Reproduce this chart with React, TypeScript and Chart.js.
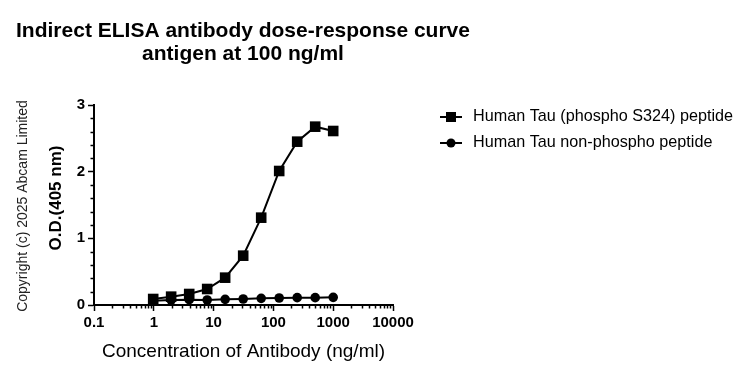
import { useEffect, useRef } from 'react';
import { Chart, registerables } from 'chart.js';
Chart.register(...registerables);

const FONT = "'Liberation Sans', Arial, sans-serif";

const titleLines = ['Indirect ELISA antibody dose-response curve', 'antigen at 100 ng/ml'];
const xAxisTitle = 'Concentration of Antibody (ng/ml)';
const yAxisTitle = 'O.D.(405 nm)';
const copyrightText = 'Copyright (c) 2025 Abcam Limited';
const seriesNames = ['Human Tau (phospho S324) peptide', 'Human Tau non-phospho peptide'];

const concentrations = [0.977, 1.95, 3.91, 7.81, 15.6, 31.25, 62.5, 125, 250, 500, 1000];
const phosphoOD = [0.09, 0.125, 0.165, 0.24, 0.41, 0.74, 1.31, 2.01, 2.45, 2.675, 2.61];
const nonPhosphoOD = [0.065, 0.075, 0.08, 0.075, 0.085, 0.09, 0.1, 0.105, 0.11, 0.11, 0.115];

const xTickValues = [0.1, 1, 10, 100, 1000, 10000];
const xTickLabels = ['0.1', '1', '10', '100', '1000', '10000'];
const yTickValues = [0, 1, 2, 3];
const yTickLabels = ['0', '1', '2', '3'];

const decorPlugin = {
  id: 'decor',
  afterDraw(chart: any) {
    const ctx = chart.ctx as CanvasRenderingContext2D;
    const xs = chart.scales.x;
    const ys = chart.scales.y;
    ctx.save();
    // minor ticks
    ctx.strokeStyle = '#000';
    ctx.lineWidth = 1.5;
    ctx.beginPath();
    for (let e = -1; e < 4; e++) {
      for (let k = 2; k < 10; k++) {
        const px = Math.round(xs.getPixelForValue(k * Math.pow(10, e))) + 0.5;
        ctx.moveTo(px, xs.top);
        ctx.lineTo(px, xs.top + 3.5);
      }
    }
    for (let i = 1; i < 15; i++) {
      if (i % 5 === 0) continue;
      const py = Math.round(ys.getPixelForValue(i * 0.2)) + 0.5;
      ctx.moveTo(ys.right - 3.5, py);
      ctx.lineTo(ys.right, py);
    }
    ctx.stroke();

    // title
    ctx.fillStyle = '#000';
    ctx.textAlign = 'center';
    ctx.textBaseline = 'middle';
    ctx.font = `bold 21px ${FONT}`;
    ctx.fillText(titleLines[0], 243, 31);
    ctx.fillText(titleLines[1], 243, 54);

    // y axis title
    ctx.save();
    ctx.translate(56, 198);
    ctx.rotate(-Math.PI / 2);
    ctx.font = `bold 17px ${FONT}`;
    ctx.fillText(yAxisTitle, 0, 0);
    ctx.restore();

    // copyright
    ctx.save();
    ctx.translate(23, 206);
    ctx.rotate(-Math.PI / 2);
    ctx.font = `14px ${FONT}`;
    ctx.fillStyle = '#222';
    ctx.fillText(copyrightText, 0, 0);
    ctx.restore();

    // legend
    const rows = [117, 143];
    ctx.textAlign = 'left';
    ctx.font = `16.2px ${FONT}`;
    rows.forEach((ry, i) => {
      ctx.strokeStyle = '#000';
      ctx.lineWidth = 2;
      ctx.beginPath();
      ctx.moveTo(440, ry);
      ctx.lineTo(462, ry);
      ctx.stroke();
      ctx.fillStyle = '#000';
      if (i === 0) {
        ctx.fillRect(451 - 5, ry - 5, 10, 10);
      } else {
        ctx.beginPath();
        ctx.arc(451, ry, 4.5, 0, Math.PI * 2);
        ctx.fill();
      }
      ctx.fillText(seriesNames[i], 473, ry);
    });
    ctx.restore();
  },
};

export default function App() {
  const ref = useRef<HTMLCanvasElement>(null);
  useEffect(() => {
    if (!ref.current) return;
    const chart = new Chart(ref.current, {
      type: 'line',
      data: {
        datasets: [
          {
            label: seriesNames[0],
            data: concentrations.map((c, i) => ({ x: c, y: phosphoOD[i] })),
            borderColor: '#000',
            backgroundColor: '#000',
            borderWidth: 2,
            pointStyle: 'rect',
            pointRadius: 7.5,
            pointBorderWidth: 0,
            tension: 0,
          },
          {
            label: seriesNames[1],
            data: concentrations.map((c, i) => ({ x: c, y: nonPhosphoOD[i] })),
            borderColor: '#000',
            backgroundColor: '#000',
            borderWidth: 2,
            pointStyle: 'circle',
            pointRadius: 4.8,
            pointBorderWidth: 0,
            tension: 0,
          },
        ],
      },
      options: {
        responsive: false,
        animation: false,
        layout: { padding: { top: 105, left: 0, right: 357, bottom: 0 } },
        plugins: { legend: { display: false }, title: { display: false }, tooltip: { enabled: false } },
        scales: {
          x: {
            type: 'logarithmic',
            min: 0.1,
            max: 10000,
            afterBuildTicks: (s: any) => {
              s.ticks = xTickValues.map((v) => ({ value: v, major: true }));
            },
            afterFit: (s: any) => {
              s.height = 70;
            },
            ticks: {
              autoSkip: false,
              maxRotation: 0,
              color: '#000',
              padding: 3,
              font: { family: FONT, size: 15, weight: 'bold' },
              callback: (_v: any, i: number) => xTickLabels[i],
            },
            grid: { display: true, drawOnChartArea: false, drawTicks: true, tickLength: 6, tickColor: '#000', tickWidth: 1.5 },
            border: { display: true, color: '#000', width: 2 },
            title: {
              display: true,
              text: xAxisTitle,
              color: '#000',
              font: { family: FONT, size: 19 },
              padding: { top: 0, bottom: 12 },
            },
          },
          y: {
            type: 'linear',
            min: 0,
            max: 3,
            afterBuildTicks: (s: any) => {
              s.ticks = yTickValues.map((v) => ({ value: v }));
            },
            afterFit: (s: any) => {
              s.width = 94;
            },
            ticks: {
              color: '#000',
              padding: 3,
              font: { family: FONT, size: 15, weight: 'bold' },
              callback: (_v: any, i: number) => yTickLabels[i],
            },
            grid: { display: true, drawOnChartArea: false, drawTicks: true, tickLength: 6, tickColor: '#000', tickWidth: 1.5 },
            border: { display: true, color: '#000', width: 2 },
          },
        },
      },
      plugins: [decorPlugin],
    } as any);
    return () => chart.destroy();
  }, []);
  return (
    <div style={{ position: 'fixed', left: 0, top: 0, width: 750, height: 375, background: '#fff' }}>
      <canvas ref={ref} width={750} height={375} />
    </div>
  );
}
